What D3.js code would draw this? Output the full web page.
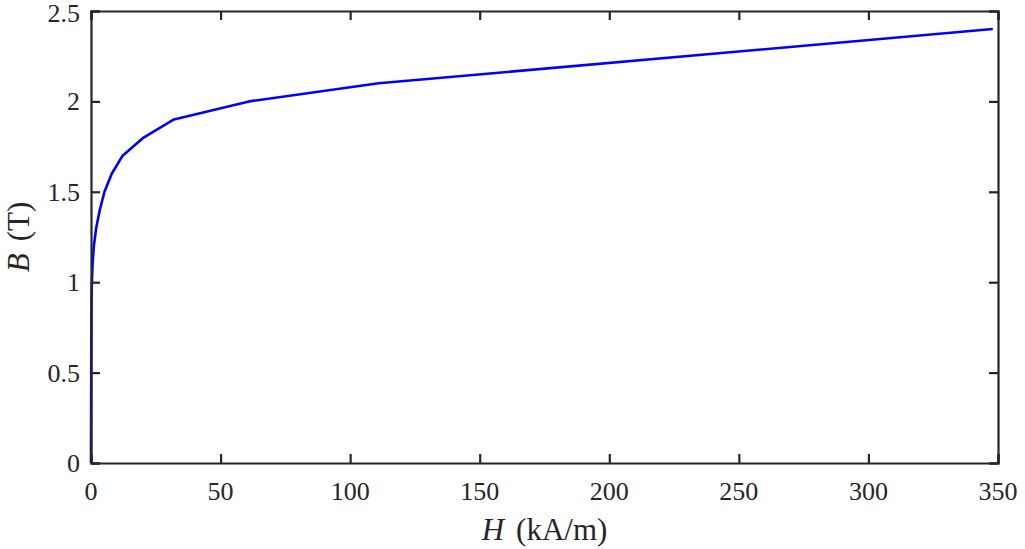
<!DOCTYPE html>
<html><head><meta charset="utf-8">
<script src="https://cdn.jsdelivr.net/npm/d3@7"></script>
</head><body style="margin:0">
<svg id="c" width="1025" height="549"></svg>
<script>
const H = [0, 0.05, 0.1, 0.2, 0.35, 0.6, 1.1, 2.0, 3.4, 5.2, 8.0, 12.2, 20.3, 32.0, 61.0, 111.0, 348.0];
const B = [0, 0.3, 0.6, 0.9, 1.0, 1.1, 1.2, 1.3, 1.4, 1.5, 1.6, 1.7, 1.8, 1.9, 2.0, 2.1, 2.4];
const xTicks = [0, 50, 100, 150, 200, 250, 300, 350];
const yTicks = [0, 0.5, 1, 1.5, 2, 2.5];
const yTickLabels = ["0", "0.5", "1", "1.5", "2", "2.5"];

const svg = d3.select("#c");
const L = 91, R = 998, T = 11, Bt = 463;
const x = d3.scaleLinear().domain([0, 350]).range([L, R]);
const y = d3.scaleLinear().domain([0, 2.5]).range([Bt, T]);
const col = "#262626";
const fam = () => "'Liberation Serif'";

svg.append("path")
  .datum(H.map((h, i) => [h, B[i]]))
  .attr("d", d3.line().x(d => x(d[0])).y(d => y(d[1])))
  .attr("fill", "none").attr("stroke", "#0000ff").attr("stroke-width", 2.6)
  .attr("stroke-linejoin", "round");

// tick marks and frame via d3 axes (no labels)
const axes = [
  svg.append("g").attr("transform", `translate(0,${Bt})`).call(d3.axisBottom(x).tickValues(xTicks).tickSize(-9).tickFormat("")),
  svg.append("g").attr("transform", `translate(0,${T})`).call(d3.axisTop(x).tickValues(xTicks).tickSize(-9).tickFormat("")),
  svg.append("g").attr("transform", `translate(${L},0)`).call(d3.axisLeft(y).tickValues(yTicks).tickSize(-9).tickFormat("")),
  svg.append("g").attr("transform", `translate(${R},0)`).call(d3.axisRight(y).tickValues(yTicks).tickSize(-9).tickFormat(""))
];
axes.forEach(g => {
  g.selectAll(".domain").attr("stroke", col).attr("stroke-width", 2.2);
  g.selectAll(".tick line").attr("stroke", col).attr("stroke-width", 2.2);
  g.selectAll(".tick text").remove();
});

// tick labels drawn from the same scales
svg.selectAll("text.xt").data(xTicks).join("text").attr("class", "xt")
  .attr("x", d => x(d)).attr("y", 500)
  .attr("text-anchor", "middle")
  .style("font-family", fam).style("font-size", "26px").style("fill", col)
  .text(d => String(d));

svg.selectAll("text.yt").data(yTicks).join("text").attr("class", "yt")
  .attr("x", L - 11).attr("y", d => Math.max(y(d) + 9, 22))
  .attr("text-anchor", "end")
  .style("font-family", fam).style("font-size", "26px").style("fill", col)
  .text((d, i) => yTickLabels[i]);

const xl = svg.append("text").attr("x", (L + R) / 2).attr("y", 540)
  .attr("text-anchor", "middle")
  .style("font-family", fam).style("font-size", "31px").style("fill", col);
xl.append("tspan").style("font-style", "italic").text("H");
xl.append("tspan").attr("dx", 12).text("(kA/m)");

const yl = svg.append("text")
  .attr("transform", `translate(29,${(T + Bt) / 2}) rotate(-90)`)
  .attr("text-anchor", "middle")
  .style("font-family", fam).style("font-size", "31px").style("fill", col);
yl.append("tspan").style("font-style", "italic").text("B");
yl.append("tspan").attr("dx", 12).text("(T)");
</script>
</body></html>
